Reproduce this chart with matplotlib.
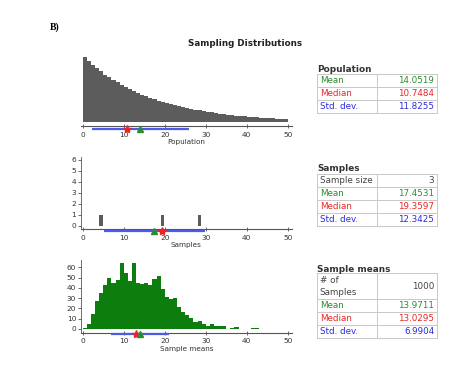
import matplotlib
matplotlib.use("Agg")
import matplotlib.pyplot as plt
import numpy as np

# population histogram (relative heights, bins of width 1 from 0 to 50)
pop_heights = [100, 94, 88, 83, 78, 73, 69, 65, 61, 57, 54, 51, 48, 45, 42, 40, 37, 35,
               33, 31, 29, 27, 26, 24, 23, 21, 20, 19, 18, 17, 16, 15, 14, 13, 12, 11,
               10.5, 10, 9.3, 8.7, 8.2, 7.7, 7.2, 6.8, 6.4, 6.0, 5.6, 5.3, 5.0, 4.7]
pop_stats = {"mean": 14.0519, "median": 10.7484, "sd": 11.8255}

# one sample of size 3
samples = [4.6, 19.36, 28.39]
samp_stats = {"size": 3, "mean": 17.4531, "median": 19.3597, "sd": 12.3425}

# histogram of 1000 sample means (counts, bins of width 1 from 0)
means_counts = [1, 5, 15, 27, 35, 43, 50, 45, 48, 64, 54, 47, 64, 45, 44, 45, 43, 49, 52,
                39, 31, 29, 30, 21, 17, 14, 11, 7, 8, 5, 3, 5, 3, 3, 3, 0, 1, 2, 0, 0, 0, 1, 1]
means_stats = {"n": 1000, "mean": 13.9711, "median": 13.0295, "sd": 6.9904}

W, H = 474, 379
GREEN = "#2e8b2e"
RED = "#e8262a"
BLUE = "#2a2ae0"
BLUE_LINE = "#4d5be8"

fig = plt.figure(figsize=(W / 100, H / 100), dpi=100)


def px(x, y):
    return x / W, 1 - y / H


def make_axes(top, bottom):
    left, right = 80.7, 291.9
    return fig.add_axes([left / W, 1 - bottom / H, (right - left) / W, (bottom - top) / H])


def style_axes(ax, label, yaxis=False):
    ax.set_xlim(-0.5, 51)
    for s in ["top", "right"]:
        ax.spines[s].set_visible(False)
    ax.spines["left"].set_visible(yaxis)
    ax.spines["bottom"].set_color("#555555")
    ax.spines["left"].set_color("#555555")
    ax.spines["bottom"].set_linewidth(0.8)
    ax.spines["left"].set_linewidth(0.6)
    ax.set_xticks(range(0, 51, 10))
    ax.tick_params(axis="x", direction="inout", length=3.5, width=0.6, labelsize=5.3,
                   pad=2.3, colors="#555555", labelcolor="#333333")
    ax.tick_params(axis="y", direction="out", length=2, width=0.6, labelsize=5.3,
                   pad=1.2, colors="#555555", labelcolor="#333333")
    if not yaxis:
        ax.set_yticks([])
    ax.set_xlabel(label, fontsize=5.2, labelpad=1, color="#333333")
    ax.patch.set_alpha(0)


def stat_marks(ax, st, ybar):
    tr = ax.get_xaxis_transform()
    ax.plot([st["mean"] - st["sd"], st["mean"] + st["sd"]], [ybar, ybar], color=BLUE_LINE,
            lw=1.6, transform=tr, clip_on=False, solid_capstyle="butt", zorder=3)
    ax.plot([st["median"]], [ybar], marker="*", color=RED, ms=6, transform=tr,
            clip_on=False, zorder=4, mec=RED)
    ax.plot([st["mean"]], [ybar], marker="^", color=GREEN, ms=4.2, transform=tr,
            clip_on=False, zorder=4, mec=GREEN)


# Population panel
ax1 = make_axes(55, 126)
ax1.stairs(pop_heights, np.arange(len(pop_heights) + 1), fill=True, color="#5c5c5c", lw=0)
ax1.set_ylim(-6.15, 103.1)
style_axes(ax1, "Population")
stat_marks(ax1, pop_stats, -0.038)

# Samples panel
ax2 = make_axes(157, 229)
counts, bins = np.histogram(samples, bins=np.arange(0, 51))
ax2.bar(bins[:-1], counts, width=0.9, align="edge", color="#5c5c5c")
ax2.set_ylim(-0.273, 6.27)
ax2.set_yticks(range(0, 7))
style_axes(ax2, "Samples", yaxis=True)
stat_marks(ax2, samp_stats, -0.024)

# Sample means panel
ax3 = make_axes(260, 332.7)
ax3.stairs(means_counts, np.arange(len(means_counts) + 1), fill=True, color="#0d7d0d", lw=0)
ax3.set_ylim(-3.6, 67.1)
ax3.set_yticks(range(0, 61, 10))
style_axes(ax3, "Sample means", yaxis=True)
stat_marks(ax3, means_stats, -0.022)

# titles
fig.text(*px(50, 27), "B)", fontsize=7, fontweight="bold", family="Liberation Serif",
         ha="left", va="center")
fig.text(*px(245, 44), "Sampling Distributions", fontsize=6.3, fontweight="bold",
         ha="center", va="center", color="#222222")


def draw_table(title, title_y, rows, row_edges):
    x0, xm, x1 = 317.3, 376.7, 436.7
    fig.text(*px(x0, title_y), title, fontsize=6.4, fontweight="bold", color="#333333",
             ha="left", va="center")
    border = "#c8c8c8"
    for y in row_edges:
        fig.add_artist(plt.Line2D([x0 / W, x1 / W], [1 - y / H, 1 - y / H],
                                  color=border, lw=0.7))
    top, bot = row_edges[0], row_edges[-1]
    for x in (x0, xm, x1):
        fig.add_artist(plt.Line2D([x / W, x / W], [1 - top / H, 1 - bot / H],
                                  color=border, lw=0.7))
    for (lab, val, col), ya, yb in zip(rows, row_edges[:-1], row_edges[1:]):
        yc = (ya + yb) / 2 + 0.3
        fig.text(*px(x0 + 2.5, yc), lab, fontsize=6.3, color=col, ha="left", va="center",
                 linespacing=1.35)
        fig.text(*px(x1 - 2.5, yc), val, fontsize=6.3, color=col, ha="right", va="center")


draw_table("Population", 69,
           [("Mean", f"{pop_stats['mean']:.4f}", GREEN),
            ("Median", f"{pop_stats['median']:.4f}", RED),
            ("Std. dev.", f"{pop_stats['sd']:.4f}", BLUE)],
           [74, 87, 100, 113])

draw_table("Samples", 169,
           [("Sample size", str(samp_stats["size"]), "#444444"),
            ("Mean", f"{samp_stats['mean']:.4f}", GREEN),
            ("Median", f"{samp_stats['median']:.4f}", RED),
            ("Std. dev.", f"{samp_stats['sd']:.4f}", BLUE)],
           [174.3, 187, 200, 212.7, 225.7])

draw_table("Sample means", 269,
           [("# of\nSamples", str(means_stats["n"]), "#444444"),
            ("Mean", f"{means_stats['mean']:.4f}", GREEN),
            ("Median", f"{means_stats['median']:.4f}", RED),
            ("Std. dev.", f"{means_stats['sd']:.4f}", BLUE)],
           [273.3, 299.3, 312, 325.3, 337.7])

fig.savefig("out.png", dpi=100)
